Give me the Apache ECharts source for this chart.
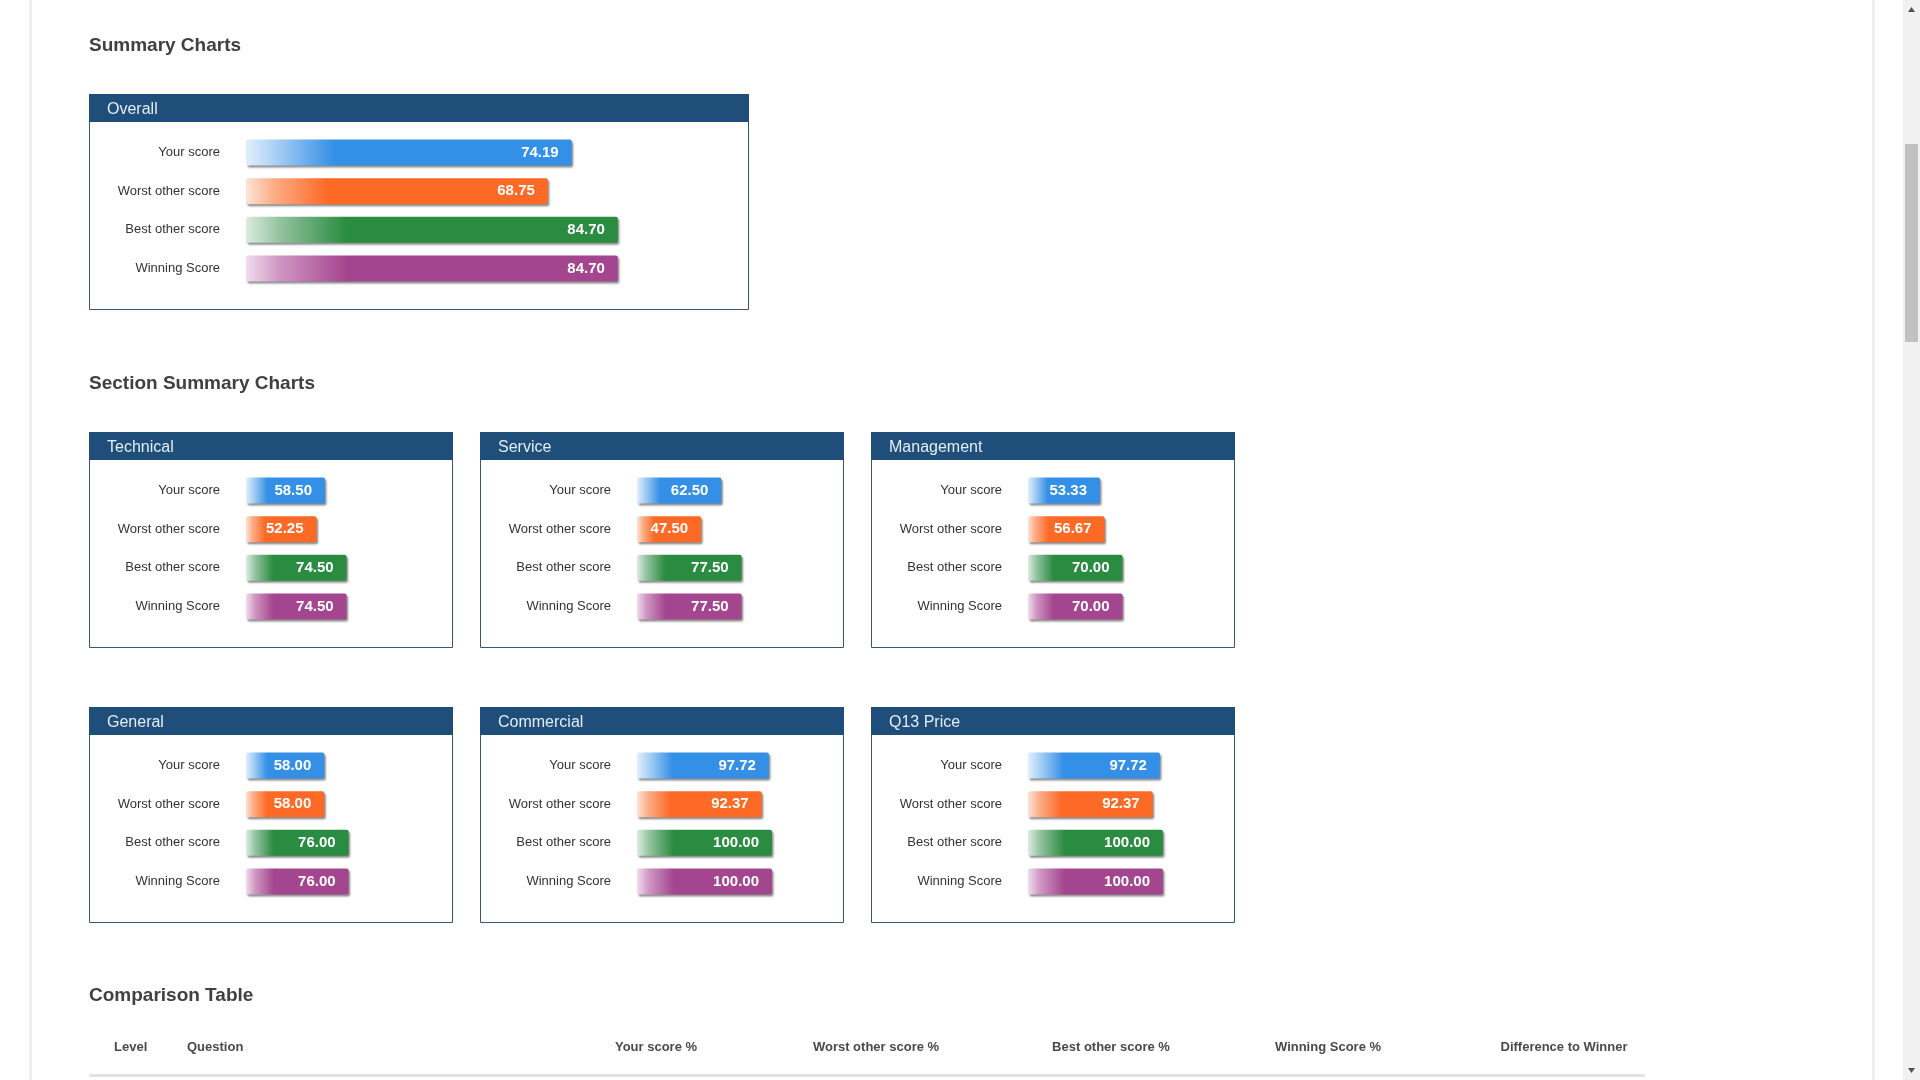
<!DOCTYPE html>
<html>
<head>
<meta charset="utf-8">
<style>
  html, body { margin: 0; padding: 0; background: #ffffff; }
  #chart { width: 1920px; height: 1080px; }
</style>
<script src="https://cdn.jsdelivr.net/npm/echarts@6/dist/echarts.min.js"></script>
</head>
<body>
<div id="chart"></div>
<script>
// ---------------- data ----------------
const categories = ['Your score', 'Worst other score', 'Best other score', 'Winning Score'];
const panelTitles = ['Overall', 'Technical', 'Service', 'Management', 'General', 'Commercial', 'Q13 Price'];
const overallScores    = [74.19, 68.75, 84.70, 84.70];
const technicalScores  = [58.50, 52.25, 74.50, 74.50];
const serviceScores    = [62.50, 47.50, 77.50, 77.50];
const managementScores = [53.33, 56.67, 70.00, 70.00];
const generalScores    = [58.00, 58.00, 76.00, 76.00];
const commercialScores = [97.72, 92.37, 100.00, 100.00];
const q13PriceScores   = [97.72, 92.37, 100.00, 100.00];
const sectionHeadings = ['Summary Charts', 'Section Summary Charts', 'Comparison Table'];
const tableColumns = ['Level', 'Question', 'Your score %', 'Worst other score %', 'Best other score %', 'Winning Score %', 'Difference to Winner'];
const axisMin = 0;
const axisMax = 100;

// ---------------- layout & style ----------------
const allScores = [overallScores, technicalScores, serviceScores, managementScores, generalScores, commercialScores, q13PriceScores];
const panelLayout = [
  { x: 89,  y: 94,  w: 659, plot: 439 },
  { x: 89,  y: 432, w: 363, plot: 135 },
  { x: 480, y: 432, w: 363, plot: 135 },
  { x: 871, y: 432, w: 363, plot: 135 },
  { x: 89,  y: 707, w: 363, plot: 135 },
  { x: 480, y: 707, w: 363, plot: 135 },
  { x: 871, y: 707, w: 363, plot: 135 }
];
const panelH = 215, headerH = 28;
const barPalette = [
  { light: '#e2effc', mid: '#a9d0f4', full: '#3490e6' },
  { light: '#fde3d6', mid: '#fcae88', full: '#fd6a26' },
  { light: '#dcece0', mid: '#94c3a0', full: '#2a8c40' },
  { light: '#f1dcec', mid: '#cf96c3', full: '#a4468f' }
];
const FONT = '"Liberation Sans", Arial, Helvetica, sans-serif';

function barGradient(p) {
  return new echarts.graphic.LinearGradient(0, 0, 1, 0, [
    { offset: 0, color: p.light },
    { offset: 0.09, color: p.mid },
    { offset: 0.27, color: p.full },
    { offset: 1, color: p.full }
  ]);
}

const grids = [], xAxes = [], yAxes = [], series = [], graphics = [];

panelLayout.forEach((L, k) => {
  graphics.push({
    type: 'rect', z: 0, silent: true,
    shape: { x: L.x + 0.5, y: L.y + 0.5, width: L.w, height: panelH },
    style: { fill: '#ffffff', stroke: '#3a5677', lineWidth: 1 }
  });
  graphics.push({
    type: 'rect', z: 1, silent: true,
    shape: { x: L.x, y: L.y, width: L.w + 1, height: headerH },
    style: { fill: '#1f4e7b' }
  });
  graphics.push({
    type: 'text', z: 2, silent: true,
    x: L.x + 18, y: L.y + headerH / 2 + 1.5,
    style: { text: panelTitles[k], fill: '#e4edf6', font: '16px ' + FONT, textVerticalAlign: 'middle', textAlign: 'left' }
  });

  grids.push({ left: L.x + 157, top: L.y + 39.3, width: L.plot, height: 154.4, containLabel: false });
  xAxes.push({ gridIndex: k, type: 'value', min: axisMin, max: axisMax, show: false, splitLine: { show: false } });
  yAxes.push({
    gridIndex: k, type: 'category', data: categories, inverse: true,
    axisLine: { show: false }, axisTick: { show: false }, splitLine: { show: false },
    axisLabel: { color: '#333333', fontSize: 13, fontFamily: FONT, margin: 26 }
  });
  series.push({
    type: 'bar', xAxisIndex: k, yAxisIndex: k, z: 5,
    barWidth: 26,
    data: allScores[k].map((v, i) => ({
      value: v,
      itemStyle: {
        color: barGradient(barPalette[i]),
        borderRadius: 2,
        shadowColor: 'rgba(0,0,0,0.45)', shadowBlur: 2, shadowOffsetX: 1.5, shadowOffsetY: 2
      }
    })),
    label: {
      show: true, position: 'insideRight', distance: 13,
      color: '#ffffff', fontWeight: 'bold', fontSize: 15, fontFamily: FONT,
      formatter: p => Number(p.value).toFixed(2)
    },
    silent: true,
    animation: false
  });
});

// headings
const headingY = [46, 384, 996];
sectionHeadings.forEach((t, i) => {
  graphics.push({
    type: 'text', z: 2, silent: true, x: 89, y: headingY[i],
    style: { text: t, fill: '#404040', font: 'bold 19px ' + FONT, textVerticalAlign: 'middle', textAlign: 'left' }
  });
});

// table header
const colX = [114, 187, 656, 876, 1111, 1328, 1564];
const colAlign = ['left', 'left', 'center', 'center', 'center', 'center', 'center'];
tableColumns.forEach((t, i) => {
  graphics.push({
    type: 'text', z: 2, silent: true, x: colX[i], y: 1047,
    style: { text: t, fill: '#4a4a4a', font: 'bold 13px ' + FONT, textVerticalAlign: 'middle', textAlign: colAlign[i] }
  });
});
graphics.push({ type: 'rect', z: 1, silent: true, shape: { x: 89, y: 1074, width: 1556, height: 3 }, style: { fill: '#e3e3e3' } });

// page borders
graphics.push({ type: 'rect', z: 1, silent: true, shape: { x: 29, y: 0, width: 3, height: 1080 }, style: { fill: '#efefef' } });
graphics.push({ type: 'rect', z: 1, silent: true, shape: { x: 1872, y: 0, width: 3, height: 1080 }, style: { fill: '#efefef' } });
// scrollbar
graphics.push({ type: 'rect', z: 1, silent: true, shape: { x: 1903, y: 0, width: 17, height: 1080 }, style: { fill: '#f1f1f1' } });
graphics.push({ type: 'rect', z: 2, silent: true, shape: { x: 1905, y: 144, width: 13, height: 198 }, style: { fill: '#c1c1c1' } });
graphics.push({ type: 'polygon', z: 2, silent: true, shape: { points: [[1908, 12], [1915, 12], [1911.5, 7]] }, style: { fill: '#505050' } });
graphics.push({ type: 'polygon', z: 2, silent: true, shape: { points: [[1908, 1068], [1915, 1068], [1911.5, 1073]] }, style: { fill: '#505050' } });

const chart = echarts.init(document.getElementById('chart'), null, { renderer: 'canvas' });
chart.setOption({
  backgroundColor: '#ffffff',
  animation: false,
  grid: grids,
  xAxis: xAxes,
  yAxis: yAxes,
  series: series,
  graphic: { elements: graphics }
});
</script>
</body>
</html>
